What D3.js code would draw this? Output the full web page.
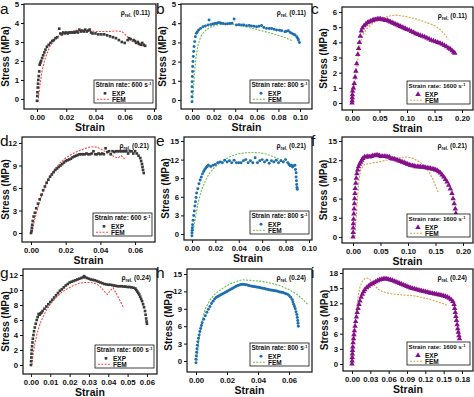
<!DOCTYPE html>
<html>
<head>
<meta charset="utf-8">
<script src="https://cdn.jsdelivr.net/npm/d3@7"></script>
<style>
  body { margin: 0; background: #fff; }
  text { font-family: Arial, "Liberation Sans", sans-serif; }
</style>
</head>
<body>
<svg id="chart" width="474" height="397"></svg>
<script>
// -------- DATA (strain, stress in MPa) --------

const expA = [[0,-0.1],[0.0002,0.15],[0.0003,0.35],[0.0005,0.6],[0.0007,0.8],[0.0009,1.0],[0.0012,1.2],[0.0015,1.45],[0.0018,1.8],[0.0023,1.9],[0.0028,2.0],[0.0035,2.15],[0.0042,2.3],[0.005,2.45],[0.0058,2.6],[0.0068,2.75],[0.008,2.85],[0.0092,2.95],[0.0104,3.05],[0.0115,3.1],[0.0127,3.2],[0.0138,3.25],[0.0152,3.7],[0.016,3.45],[0.017,3.4],[0.018,3.5],[0.019,3.45],[0.020,3.5],[0.021,3.45],[0.022,3.5],[0.023,3.5],[0.024,3.5],[0.025,3.5],[0.026,3.5],[0.027,3.55],[0.028,3.5],[0.029,3.65],[0.030,3.55],[0.031,3.6],[0.032,3.55],[0.033,3.65],[0.034,3.55],[0.035,3.6],[0.036,3.65],[0.037,3.5],[0.038,3.45],[0.040,3.45],[0.042,3.4],[0.044,3.4],[0.046,3.4],[0.048,3.35],[0.050,3.3],[0.052,3.25],[0.054,3.2],[0.056,3.1],[0.058,3.0],[0.060,2.95],[0.062,3.1],[0.063,3.2],[0.064,3.15],[0.066,3.1],[0.067,3.05],[0.068,2.95],[0.069,3.0],[0.070,2.9],[0.071,2.85],[0.072,2.95],[0.073,2.85],[0.074,2.8]];
const femA = [[0.0007,-0.15],[0.0018,0.6],[0.0035,1.5],[0.0058,2.2],[0.009,2.8],[0.0135,3.25],[0.018,3.45],[0.023,3.55],[0.027,3.62],[0.034,3.6],[0.041,3.55],[0.048,3.55],[0.054,3.58],[0.058,3.55],[0.061,3.35],[0.064,3.1],[0.068,2.9],[0.074,2.75]];

const expB = [[0,-0.09],[0,0.17],[0,0.43],[0,0.69],[0.0001,0.95],[0.0003,1.22],[0.0005,1.48],[0.0006,1.74],[0.0009,2.0],[0.0012,2.26],[0.0015,2.52],[0.0019,2.78],[0.0025,3.04],[0.0031,3.3],[0.004,3.47],[0.005,3.56],[0.0062,3.65],[0.008,3.73],[0.0102,3.82],[0.0124,3.85],[0.0149,3.9],[0.0158,4.17],[0.0175,3.93],[0.0195,3.96],[0.021,3.98],[0.0226,3.99],[0.024,4.02],[0.0257,4.03],[0.027,4.0],[0.0288,3.99],[0.031,3.96],[0.033,3.97],[0.035,3.99],[0.037,4.0],[0.039,4.22],[0.0412,3.9],[0.0435,3.92],[0.0458,3.9],[0.048,3.9],[0.0505,3.87],[0.053,3.88],[0.0551,3.85],[0.0575,3.84],[0.0598,3.82],[0.062,3.84],[0.0644,3.88],[0.0665,3.78],[0.069,3.73],[0.0715,3.72],[0.0737,3.72],[0.076,3.68],[0.0783,3.65],[0.081,3.63],[0.083,3.61],[0.086,3.56],[0.0875,3.58],[0.0892,3.61],[0.091,3.52],[0.0923,3.47],[0.094,3.43],[0.0954,3.39],[0.097,3.3],[0.098,3.2],[0.0985,3.13],[0.0994,2.99]];
const femB = [[0.0003,-0.09],[0.0012,0.52],[0.0019,1.04],[0.0028,1.74],[0.004,2.34],[0.0056,2.86],[0.008,3.3],[0.0111,3.56],[0.0164,3.78],[0.0226,3.91],[0.0303,3.96],[0.0396,3.92],[0.0489,3.82],[0.0582,3.7],[0.0675,3.56],[0.0768,3.42],[0.0861,3.25],[0.0929,3.09]];

const expC = [[0,0],[0.0003,0.15],[0.0005,0.35],[0.0007,0.55],[0.001,0.8],[0.0025,1.0],[0.004,1.3],[0.0055,1.7],[0.007,2.1],[0.0085,2.6],[0.0105,3.2],[0.012,3.6],[0.0135,4.0],[0.015,4.4],[0.017,4.75],[0.019,4.95],[0.022,5.1],[0.025,5.2],[0.028,5.3],[0.031,5.35],[0.034,5.4],[0.037,5.45],[0.040,5.5],[0.043,5.5],[0.046,5.55],[0.049,5.55],[0.052,5.55],[0.055,5.5],[0.058,5.5],[0.061,5.45],[0.064,5.45],[0.067,5.4],[0.070,5.35],[0.073,5.3],[0.076,5.25],[0.079,5.2],[0.082,5.15],[0.085,5.1],[0.088,5.05],[0.091,5.0],[0.094,4.95],[0.097,4.9],[0.100,4.85],[0.104,4.8],[0.108,4.72],[0.112,4.65],[0.116,4.58],[0.120,4.52],[0.124,4.45],[0.128,4.4],[0.132,4.35],[0.136,4.3],[0.140,4.22],[0.144,4.15],[0.148,4.1],[0.152,4.05],[0.156,4.0],[0.160,3.95],[0.164,3.88],[0.168,3.8],[0.172,3.72],[0.176,3.62],[0.179,3.55],[0.182,3.45],[0.185,3.35],[0.187,3.28]];
const femC = [[0.001,0],[0.004,0.9],[0.007,1.8],[0.01,2.7],[0.013,3.5],[0.016,4.1],[0.02,4.5],[0.025,4.8],[0.03,5.0],[0.035,5.15],[0.04,5.3],[0.05,5.5],[0.06,5.65],[0.07,5.75],[0.078,5.8],[0.09,5.75],[0.1,5.68],[0.11,5.6],[0.12,5.5],[0.13,5.38],[0.14,5.25],[0.15,5.1],[0.16,4.85],[0.168,4.55],[0.175,4.2]];

const expD = [[0,0],[0.0003,0.3],[0.0005,0.7],[0.0007,1.1],[0.001,1.6],[0.0015,2.2],[0.0022,2.7],[0.003,3.3],[0.004,3.9],[0.005,4.5],[0.006,5.1],[0.007,5.7],[0.008,6.2],[0.009,6.7],[0.010,7.1],[0.011,7.5],[0.012,7.8],[0.013,8.1],[0.014,8.4],[0.015,8.6],[0.016,8.8],[0.017,9.0],[0.018,9.2],[0.019,9.4],[0.020,9.6],[0.021,9.7],[0.022,9.8],[0.023,9.9],[0.024,10.1],[0.025,10.2],[0.026,10.3],[0.027,10.4],[0.028,10.5],[0.029,10.5],[0.030,10.5],[0.031,10.5],[0.032,10.6],[0.033,10.5],[0.034,10.5],[0.035,10.6],[0.036,10.9],[0.037,10.5],[0.038,10.5],[0.039,10.6],[0.040,10.5],[0.041,10.6],[0.042,10.5],[0.043,11.3],[0.044,10.8],[0.045,10.9],[0.046,10.5],[0.047,10.9],[0.048,10.8],[0.049,10.9],[0.050,10.9],[0.051,10.9],[0.052,10.9],[0.053,10.9],[0.054,10.9],[0.055,10.9],[0.056,10.6],[0.057,10.9],[0.058,10.9],[0.059,10.6],[0.060,10.9],[0.061,10.6],[0.062,10.3],[0.063,10.0],[0.0635,9.6],[0.064,9.2],[0.0643,8.8],[0.0646,8.4],[0.065,8.0]];
const femD = [[0.0005,0],[0.0015,1.2],[0.003,2.6],[0.005,4.2],[0.007,5.6],[0.009,6.7],[0.011,7.6],[0.014,8.6],[0.017,9.4],[0.02,10.0],[0.024,10.6],[0.028,11.0],[0.032,11.35],[0.035,11.5],[0.038,11.45],[0.041,11.1],[0.044,10.7],[0.047,10.3],[0.05,10.0],[0.052,10.3],[0.054,9.9]];

const expE = [[0,-0.3],[0,0.2],[0.0002,0.6],[0.0003,1.0],[0.0005,1.5],[0.001,2.2],[0.0015,3.0],[0.002,3.7],[0.0025,4.5],[0.003,5.2],[0.0035,5.9],[0.004,6.6],[0.005,7.3],[0.006,8.1],[0.007,8.7],[0.008,9.2],[0.009,9.7],[0.010,10.1],[0.011,10.4],[0.012,10.7],[0.013,10.9],[0.014,11.1],[0.016,10.9],[0.018,11.1],[0.020,11.2],[0.022,11.5],[0.024,11.6],[0.026,11.5],[0.028,11.9],[0.030,11.6],[0.032,11.8],[0.034,11.5],[0.036,11.9],[0.038,11.5],[0.040,11.5],[0.042,11.5],[0.044,11.8],[0.046,12.0],[0.048,11.5],[0.050,11.8],[0.052,11.5],[0.054,12.3],[0.056,11.5],[0.058,11.8],[0.060,12.0],[0.062,11.6],[0.064,11.9],[0.066,11.4],[0.068,11.8],[0.070,11.6],[0.072,11.9],[0.074,11.5],[0.076,11.8],[0.078,11.6],[0.080,12.0],[0.082,11.5],[0.083,11.2],[0.084,11.0],[0.085,11.1],[0.086,10.8],[0.087,11.0],[0.088,11.1],[0.0885,10.4],[0.089,9.9],[0.089,9.2],[0.0893,8.6],[0.0895,8.0],[0.0898,7.5],[0.09,7.2]];
const femE = [[0.0005,0],[0.002,1.5],[0.0035,3.2],[0.005,4.8],[0.007,6.3],[0.009,7.5],[0.012,8.8],[0.015,9.8],[0.019,10.7],[0.024,11.5],[0.029,12.1],[0.034,12.6],[0.04,12.95],[0.046,13.1],[0.052,13.15],[0.058,13.1],[0.063,12.9],[0.068,12.6],[0.073,12.2],[0.078,11.8],[0.082,11.4],[0.086,11.0],[0.088,10.8]];

const expF = [[0,0],[0.0002,0.7],[0.0004,1.4],[0.0006,2.1],[0.001,2.8],[0.0015,3.6],[0.002,4.4],[0.0025,5.2],[0.003,6.0],[0.0035,6.8],[0.004,7.6],[0.005,8.4],[0.006,9.2],[0.007,9.9],[0.0085,10.5],[0.01,11.0],[0.012,11.4],[0.014,11.7],[0.016,12.0],[0.018,12.3],[0.021,12.5],[0.024,12.5],[0.027,12.6],[0.030,12.5],[0.033,12.6],[0.036,12.7],[0.039,12.7],[0.042,12.8],[0.045,12.8],[0.048,12.7],[0.051,12.6],[0.054,12.6],[0.057,12.6],[0.060,12.6],[0.063,12.5],[0.066,12.5],[0.069,12.3],[0.072,12.2],[0.075,12.2],[0.078,12.1],[0.081,12.0],[0.084,11.9],[0.087,11.8],[0.090,11.7],[0.093,11.6],[0.096,11.5],[0.099,11.4],[0.102,11.3],[0.105,11.2],[0.108,11.15],[0.111,11.1],[0.114,11.0],[0.117,11.0],[0.120,11.0],[0.123,10.95],[0.126,10.9],[0.129,10.9],[0.132,10.85],[0.135,10.8],[0.138,10.75],[0.141,10.7],[0.144,10.6],[0.147,10.6],[0.150,10.5],[0.153,10.4],[0.156,10.2],[0.159,10.0],[0.162,9.7],[0.165,9.4],[0.168,9.0],[0.171,8.6],[0.174,8.1],[0.177,7.5],[0.18,6.8],[0.182,6.0],[0.184,5.2],[0.186,4.4],[0.187,3.7],[0.188,3.0]];
const femF = [[0.003,0],[0.005,2],[0.007,4.5],[0.009,7],[0.011,9],[0.014,10.5],[0.02,11.3],[0.03,11.5],[0.045,11.7],[0.06,12.0],[0.075,12.2],[0.088,12.45],[0.1,12.5],[0.11,12.25],[0.12,11.8],[0.13,11.1],[0.138,10.2],[0.145,9.1],[0.15,8.0],[0.155,7.0]];

const expG = [[0,0],[0.0001,0.5],[0.0002,1.0],[0.0003,1.5],[0.0004,2.0],[0.0006,2.5],[0.0008,3.0],[0.001,3.5],[0.0013,4.0],[0.0016,4.5],[0.002,5.0],[0.0025,5.5],[0.003,6.0],[0.0035,6.4],[0.004,6.8],[0.0045,6.7],[0.005,6.9],[0.0055,7.0],[0.006,7.2],[0.007,7.5],[0.008,7.8],[0.009,8.1],[0.010,8.4],[0.011,8.7],[0.012,9.0],[0.013,9.3],[0.014,9.6],[0.015,9.9],[0.016,10.1],[0.017,10.35],[0.018,10.6],[0.019,10.8],[0.020,11.0],[0.021,11.1],[0.022,11.2],[0.023,11.3],[0.024,11.4],[0.025,11.5],[0.026,11.6],[0.027,11.7],[0.0275,11.85],[0.028,11.7],[0.029,11.6],[0.030,11.5],[0.031,11.4],[0.032,11.35],[0.033,11.3],[0.034,11.2],[0.035,11.1],[0.036,11.0],[0.037,10.9],[0.038,10.8],[0.039,10.75],[0.040,10.7],[0.041,10.7],[0.042,10.65],[0.043,10.6],[0.044,10.55],[0.045,10.5],[0.046,10.5],[0.047,10.5],[0.048,10.45],[0.049,10.45],[0.050,10.4],[0.051,10.4],[0.052,10.35],[0.053,10.3],[0.054,10.2],[0.0545,10.0],[0.055,9.8],[0.0555,9.6],[0.056,9.4],[0.0565,9.1],[0.057,8.8],[0.0575,8.5],[0.058,8.1],[0.0585,7.7],[0.059,7.2],[0.0593,6.7],[0.0596,6.2],[0.0598,5.8],[0.06,5.5]];
const femG = [[0.0005,0],[0.0012,1.5],[0.002,2.8],[0.003,4.0],[0.0045,5.3],[0.006,6.3],[0.008,7.3],[0.010,8.1],[0.013,9.0],[0.016,9.7],[0.019,10.2],[0.022,10.6],[0.025,10.9],[0.028,11.0],[0.031,11.0],[0.034,10.8],[0.036,10.4],[0.038,9.8],[0.0395,9.4],[0.041,9.9],[0.0425,10.3],[0.044,9.6],[0.046,8.6],[0.048,7.6]];

const expH = [[0,-0.3],[0,0.3],[0.0002,0.9],[0.0004,1.5],[0.0006,2.1],[0.0009,2.7],[0.0012,3.3],[0.0016,3.9],[0.002,4.5],[0.0025,5.1],[0.003,5.6],[0.0035,6.1],[0.004,6.6],[0.005,7.2],[0.006,7.8],[0.007,8.4],[0.008,8.9],[0.009,9.4],[0.010,9.9],[0.011,10.3],[0.012,10.7],[0.013,10.95],[0.014,11.1],[0.015,11.25],[0.016,11.4],[0.017,11.55],[0.018,11.7],[0.019,11.85],[0.020,12.0],[0.021,12.15],[0.022,12.3],[0.023,12.45],[0.024,12.6],[0.025,12.75],[0.026,12.9],[0.027,13.0],[0.028,13.1],[0.029,13.2],[0.030,13.25],[0.031,13.2],[0.032,13.15],[0.033,13.1],[0.034,13.0],[0.035,12.95],[0.036,12.9],[0.037,12.85],[0.038,12.8],[0.039,12.75],[0.040,12.7],[0.041,12.65],[0.042,12.6],[0.043,12.55],[0.044,12.5],[0.045,12.4],[0.046,12.35],[0.047,12.3],[0.048,12.25],[0.049,12.2],[0.050,12.15],[0.051,12.1],[0.052,12.05],[0.053,12.0],[0.054,11.9],[0.055,11.85],[0.056,11.8],[0.057,11.7],[0.058,11.6],[0.059,11.5],[0.060,11.3],[0.061,11.0],[0.062,10.6],[0.0625,10.2],[0.063,9.8],[0.0635,9.4],[0.064,9.0],[0.0645,8.5],[0.065,8.0],[0.0653,7.5],[0.0656,7.0],[0.0658,6.5],[0.066,6.0]];
const femH = [[0.0005,0],[0.002,4],[0.004,7],[0.006,9],[0.009,10.5],[0.012,11.5],[0.017,12.5],[0.022,13.3],[0.027,13.8],[0.03,14.0],[0.035,13.9],[0.04,13.8],[0.045,13.6],[0.05,13.3],[0.055,12.9],[0.06,12.3],[0.065,11.5],[0.069,10.6],[0.072,9.8]];

const expI = [[0,0],[0.0002,0.6],[0.0004,1.3],[0.0006,2.0],[0.0008,2.7],[0.0012,3.4],[0.0018,4.2],[0.0025,5.0],[0.0032,5.8],[0.004,6.6],[0.005,7.5],[0.006,8.4],[0.0072,9.3],[0.0085,10.2],[0.01,11.0],[0.0115,11.8],[0.013,12.5],[0.015,13.2],[0.017,13.8],[0.019,14.3],[0.021,14.7],[0.024,15.1],[0.027,15.4],[0.030,15.7],[0.033,15.9],[0.036,16.1],[0.039,16.3],[0.042,16.5],[0.045,16.65],[0.048,16.75],[0.051,16.85],[0.054,16.9],[0.057,16.85],[0.060,16.75],[0.063,16.65],[0.066,16.55],[0.069,16.4],[0.072,16.25],[0.075,16.1],[0.078,15.95],[0.081,15.8],[0.084,15.65],[0.087,15.5],[0.090,15.35],[0.093,15.2],[0.096,15.05],[0.099,14.95],[0.102,14.85],[0.105,14.75],[0.108,14.65],[0.111,14.55],[0.114,14.45],[0.117,14.35],[0.120,14.3],[0.123,14.2],[0.126,14.1],[0.129,14.0],[0.132,13.95],[0.135,13.85],[0.138,13.8],[0.141,13.7],[0.144,13.65],[0.147,13.55],[0.150,13.45],[0.153,13.35],[0.156,13.2],[0.159,13.0],[0.162,12.75],[0.165,12.4],[0.167,11.8],[0.168,11.0],[0.169,10.2],[0.170,9.4],[0.171,8.6],[0.172,7.8],[0.173,7.0],[0.174,6.3],[0.175,5.6],[0.176,5.0]];
const femI = [[0.001,0],[0.003,3.5],[0.005,7],[0.007,10],[0.01,13.3],[0.013,15.2],[0.017,16.4],[0.021,16.9],[0.025,17.0],[0.029,16.8],[0.033,16.2],[0.038,15.4],[0.044,14.7],[0.05,14.3],[0.06,14.0],[0.07,13.8],[0.08,13.7],[0.09,13.6],[0.10,13.5],[0.11,13.3],[0.12,13.0],[0.13,12.7],[0.14,12.3],[0.15,11.9],[0.158,11.5]];

// tick labels
const xTicksA = [0, 0.02, 0.04, 0.06, 0.08];
const xTicksB = [0, 0.02, 0.04, 0.06, 0.08, 0.10];
const xTicksC = [0, 0.05, 0.10, 0.15, 0.20];
const xTicksD = [0, 0.02, 0.04, 0.06];
const xTicksE = [0, 0.02, 0.04, 0.06, 0.08, 0.10];
const xTicksF = [0, 0.05, 0.10, 0.15, 0.20];
const xTicksG = [0, 0.01, 0.02, 0.03, 0.04, 0.05, 0.06];
const xTicksH = [0, 0.02, 0.04, 0.06];
const xTicksI = [0, 0.03, 0.06, 0.09, 0.12, 0.15, 0.18];
const yTicksA = [0, 1, 2, 3, 4, 5];
const yTicksC = [0, 1, 2, 3, 4, 5, 6];
const yTicks12 = [0, 3, 6, 9, 12];
const yTicks15 = [0, 3, 6, 9, 12, 15];
const yTicksG = [0, 2, 4, 6, 8, 10, 12];
const yTicksI = [0, 3, 6, 9, 12, 15, 18];

const strainRates = ["600", "800", "1600"];   // per column
const densities = ["0.11", "0.21", "0.24"];   // per row
const letters = ["a", "b", "c", "d", "e", "f", "g", "h", "i"];

// -------- LAYOUT --------
// column styles
const colStyle = [
  {marker: "square",   expColor: "#3a3a3a", femColor: "#ec4f4a"},
  {marker: "circle",   expColor: "#1e6fb0", femColor: "#6cbf4a"},
  {marker: "triangle", expColor: "#86108a", femColor: "#d9a14a"}
];

// box = [left, right, top, bottom] in px
const panels = [
  {exp: expA, fem: femA, box: [24, 156, 4, 109],   xd: [-0.0089, 0.0814], yd: [-0.53, 5],    xt: xTicksA, yt: yTicksA},
  {exp: expB, fem: femB, box: [181, 312, 4, 109],  xd: [-0.0102, 0.1111], yd: [-0.47, 5],    xt: xTicksB, yt: yTicksA},
  {exp: expC, fem: femC, box: [342, 473, 7, 110],  xd: [-0.0182, 0.2200], yd: [-0.46, 6.33], xt: xTicksC, yt: yTicksC},
  {exp: expD, fem: femD, box: [22, 155, 137, 242], xd: [-0.0052, 0.0715], yd: [-1.2, 12.8],  xt: xTicksD, yt: yTicks12},
  {exp: expE, fem: femE, box: [184, 312, 137, 240],xd: [-0.0068, 0.1026], yd: [-0.97, 15.65],xt: xTicksE, yt: yTicks15},
  {exp: expF, fem: femF, box: [342, 473, 137, 243],xd: [-0.0200, 0.2182], yd: [-0.94, 15.63],xt: xTicksF, yt: yTicks15},
  {exp: expG, fem: femG, box: [23, 157, 269, 374], xd: [-0.0041, 0.0652], yd: [-1.2, 12.8],  xt: xTicksG, yt: yTicksG},
  {exp: expH, fem: femH, box: [187, 312, 269, 372],xd: [-0.0058, 0.0748], yd: [-1.9, 15.86], xt: xTicksH, yt: yTicks15},
  {exp: expI, fem: femI, box: [343, 473, 269, 371],xd: [-0.0147, 0.1980], yd: [-1.38, 18.79],xt: xTicksI, yt: yTicksI}
];

const svg = d3.select("#chart");

panels.forEach((p, k) => {
  const col = k % 3, row = Math.floor(k / 3);
  const st = colStyle[col];
  const [L, R, T, B] = p.box;

  const x = d3.scaleLinear().domain(p.xd).range([L, R]);
  const y = d3.scaleLinear().domain(p.yd).range([B, T]);
  const g = svg.append("g");

  // clip
  const clipId = "clip" + k;
  g.append("clipPath").attr("id", clipId)
    .append("rect").attr("x", L).attr("y", T).attr("width", R - L).attr("height", B - T);

  // axes
  const xAxisG = g.append("g")
    .attr("transform", `translate(0,${B})`)
    .call(d3.axisBottom(x).tickValues(p.xt).tickFormat(d3.format(".2f")).tickSize(3).tickSizeOuter(0));
  const yAxisG = g.append("g")
    .attr("transform", `translate(${L},0)`)
    .call(d3.axisLeft(y).tickValues(p.yt).tickFormat(d3.format("d")).tickSize(3).tickSizeOuter(0));
  [xAxisG, yAxisG].forEach(a => {
    a.select(".domain").remove();
    a.selectAll(".tick line").attr("stroke", "#111").attr("stroke-width", 1);
    a.selectAll(".tick text")
      .attr("fill", "#111")
      .style("font-size", "7.8px")
      .style("font-weight", "bold")
      .style("font-family", "Arial, 'Liberation Sans', sans-serif");
  });
  xAxisG.selectAll(".tick text").attr("dy", "0.75em").attr("y", 5);
  yAxisG.selectAll(".tick text").attr("x", -5);

  // frame
  g.append("rect")
    .attr("x", L).attr("y", T).attr("width", R - L).attr("height", B - T)
    .attr("fill", "none").attr("stroke", "#111").attr("stroke-width", 1.2);

  // FEM line
  const line = d3.line().x(d => x(d[0])).y(d => y(d[1]));
  g.append("path")
    .datum(p.fem)
    .attr("clip-path", `url(#${clipId})`)
    .attr("d", line)
    .attr("fill", "none")
    .attr("stroke", st.femColor)
    .attr("stroke-width", 1.1)
    .attr("stroke-dasharray", "2,1.3");

  // EXP markers
  const symType = st.marker === "square" ? d3.symbolSquare
                : st.marker === "circle" ? d3.symbolCircle : d3.symbolTriangle;
  const symSize = st.marker === "square" ? 7 : st.marker === "circle" ? 7 : 13;
  g.append("g").attr("clip-path", `url(#${clipId})`)
    .selectAll("path")
    .data(p.exp)
    .join("path")
      .attr("transform", d => `translate(${x(d[0])},${y(d[1])})`)
      .attr("d", d3.symbol(symType, symSize))
      .attr("fill", st.expColor);

  // axis titles
  g.append("text")
    .attr("x", (L + R) / 2).attr("y", B + 22)
    .attr("text-anchor", "middle")
    .style("font-size", "10.5px").style("font-weight", "bold")
    .attr("fill", "#111")
    .text("Strain");
  g.append("text")
    .attr("transform", `translate(${Math.max(L - 15, 9)},${(T + B) / 2}) rotate(-90)`)
    .attr("text-anchor", "middle")
    .style("font-size", "10px").style("font-weight", "bold")
    .attr("fill", "#111")
    .text("Stress (MPa)");

  // panel letter
  g.append("text")
    .attr("x", col === 0 ? 0 : col === 1 ? 156 : 311)
    .attr("y", row === 0 ? 14 : T + 9)
    .style("font-size", "15.5px")
    .attr("fill", "#111")
    .text(letters[k]);

  // rho label
  const rho = g.append("text")
    .attr("x", R - 6).attr("y", T + 11)
    .attr("text-anchor", "end")
    .style("font-size", "6.5px").style("font-weight", "bold")
    .attr("fill", "#111");
  rho.append("tspan").text("ρ");
  rho.append("tspan").attr("dy", 1.5).style("font-size", "4.5px").text("rel.");
  rho.append("tspan").attr("dy", -1.5).text(" (" + densities[row] + ")");

  // legend
  const lw = col === 2 ? 63 : 59, lh = 23;
  const lx = R - 3 - lw, ly = B - 6 - lh;
  const fs = col === 2 ? "6.2px" : "6.5px";
  const lg = g.append("g");
  lg.append("rect")
    .attr("x", lx).attr("y", ly).attr("width", lw).attr("height", lh)
    .attr("fill", "#fff").attr("stroke", "#111").attr("stroke-width", 0.8);
  const t1 = lg.append("text")
    .attr("x", lx + 1.5).attr("y", ly + 7)
    .style("font-size", fs).style("font-weight", "bold").attr("fill", "#111");
  t1.append("tspan").text("Strain rate: " + strainRates[col] + " s");
  t1.append("tspan").attr("dy", -2.5).style("font-size", "4px").text("-1");
  lg.append("path")
    .attr("transform", `translate(${lx + 11},${ly + 13.3})`)
    .attr("d", d3.symbol(symType, symSize)())
    .attr("fill", st.expColor);
  lg.append("text")
    .attr("x", lx + 18).attr("y", ly + 15.5)
    .style("font-size", "6.5px").style("font-weight", "bold").attr("fill", "#111")
    .text("EXP");
  lg.append("line")
    .attr("x1", lx + 3).attr("x2", lx + 15)
    .attr("y1", ly + 19.3).attr("y2", ly + 19.3)
    .attr("stroke", st.femColor).attr("stroke-width", 1.1)
    .attr("stroke-dasharray", "2,1.3");
  lg.append("text")
    .attr("x", lx + 18).attr("y", ly + 21.5)
    .style("font-size", "6.5px").style("font-weight", "bold").attr("fill", "#111")
    .text("FEM");
});
</script>
</body>
</html>
